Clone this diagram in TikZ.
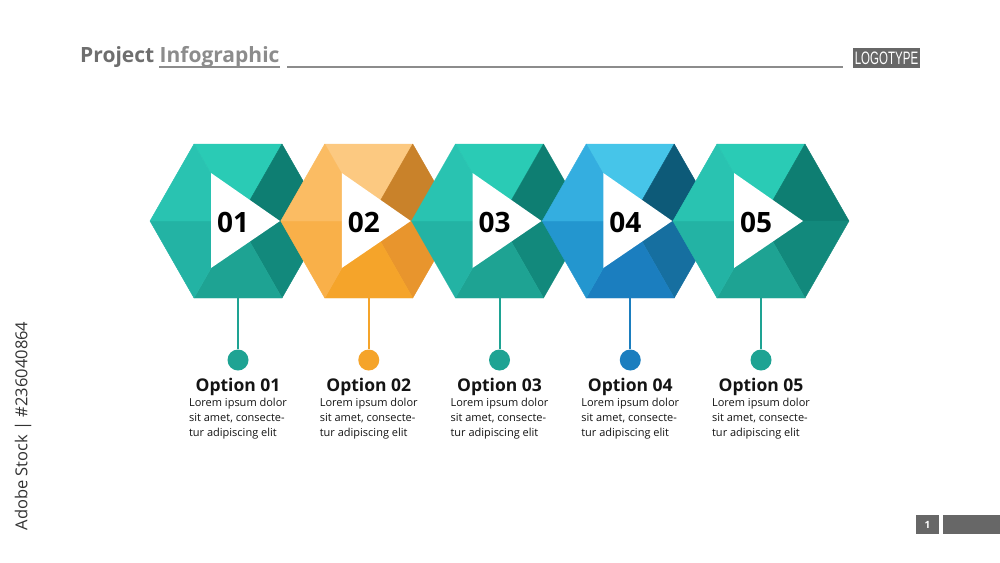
\documentclass[tikz,border=0pt]{standalone}
\usepackage{fontspec}
\setmainfont{Open Sans}
\newfontfamily\logofont{Liberation Sans}
\usetikzlibrary{positioning}

\definecolor{inkgray}{HTML}{6E6E6E}
\definecolor{lightgray}{HTML}{8C8C8C}
\definecolor{boxgray}{HTML}{676767}
\definecolor{textblack}{HTML}{141414}
% teal gem
\definecolor{tealT}{HTML}{2ACBB5}
\definecolor{tealUR}{HTML}{0E7E72}
\definecolor{tealLR}{HTML}{12897C}
\definecolor{tealB}{HTML}{1EA393}
\definecolor{tealLL}{HTML}{23B3A4}
\definecolor{tealUL}{HTML}{29C3B1}
% orange gem
\definecolor{orangeT}{HTML}{FCC981}
\definecolor{orangeUR}{HTML}{C9822A}
\definecolor{orangeLR}{HTML}{E8952D}
\definecolor{orangeB}{HTML}{F5A42A}
\definecolor{orangeLL}{HTML}{F9B049}
\definecolor{orangeUL}{HTML}{FBBC63}
% blue gem
\definecolor{blueT}{HTML}{46C5E9}
\definecolor{blueUR}{HTML}{0D5A78}
\definecolor{blueLR}{HTML}{166FA0}
\definecolor{blueB}{HTML}{1B7EBF}
\definecolor{blueLL}{HTML}{2396CF}
\definecolor{blueUL}{HTML}{34AEE0}

% #1 name, #2 centre x, #3 colour set, #4 number
\newcommand{\gem}[4]{%
  \begin{scope}[shift={(#2,221)}]
    \coordinate (#1) at (0,0);
    \fill[facet=#3T]  (0,0) -- (-44,-77) -- (44,-77) -- cycle;
    \fill[facet=#3UR] (0,0) -- (44,-77) -- (88,0) -- cycle;
    \fill[facet=#3LR] (0,0) -- (88,0) -- (44,77) -- cycle;
    \fill[facet=#3B]  (0,0) -- (44,77) -- (-44,77) -- cycle;
    \fill[facet=#3LL] (0,0) -- (-44,77) -- (-88,0) -- cycle;
    \fill[facet=#3UL] (0,0) -- (-88,0) -- (-44,-77) -- cycle;
    \fill[white] (-27,-48) -- (-27,47) -- (42,0) -- cycle;
    \node[num] at (-5,1) {#4};
    \coordinate (#1 foot) at (0,77);
  \end{scope}}

\begin{document}
\begin{tikzpicture}[x=1pt,y=-1pt,
  facet/.style={fill=#1,draw=#1,line width=.4pt,line join=round},
  num/.style={font=\fontsize{28}{30}\selectfont\bfseries,text=black,inner sep=0},
  stem/.style={draw=#1,line width=2pt},
  dot/.style={circle,fill=#1,minimum size=21pt,inner sep=0},
  opt/.style={font=\fontsize{17.5}{20}\selectfont\bfseries,text=textblack,inner sep=0,anchor=base},
  body/.style={font=\fontsize{11}{15}\selectfont,text=textblack,inner sep=0,
    align=left,below=3pt of #1}]

  \useasboundingbox[fill=white] (0,0) rectangle (1000,562);

  % header
  \node[font=\fontsize{21}{24}\selectfont\bfseries,text=inkgray,inner sep=0,anchor=base west]
    (proj) at (80,62) {Project};
  \node[font=\fontsize{21}{24}\selectfont\bfseries,text=lightgray,inner sep=0,
    right=5pt of proj.base east,anchor=base west] (info) {Infographic};
  \draw[lightgray,line width=2pt] ([yshift=-4.5pt]info.base west) -- ([yshift=-4.5pt]info.base east);
  \coordinate (ruleL) at (287,67);
  \coordinate (ruleR) at (843,67);
  \draw[lightgray,line width=2.5pt] (ruleL) -- (ruleR);
  \node[fill=boxgray,text=white,minimum width=67pt,minimum height=20pt,inner sep=0,
    font=\logofont\fontsize{18}{18}\selectfont] (logo) at (886.5,58)
    {\scalebox{.64}[1]{LOGOTYPE}};

  % gems, left to right so each one lies over the previous
  \gem{g1}{238}{teal}{01}
  \gem{g2}{368.75}{orange}{02}
  \gem{g3}{499.5}{teal}{03}
  \gem{g4}{630.25}{blue}{04}
  \gem{g5}{761}{teal}{05}

  \node[dot=tealB]   (d1) at (238,360) {};
  \node[dot=orangeB] (d2) at (368.75,360) {};
  \node[dot=tealB]   (d3) at (499.5,360) {};
  \node[dot=blueB]   (d4) at (630.25,360) {};
  \node[dot=tealB]   (d5) at (761,360) {};
  \draw[stem=tealB]   (g1 foot) -- (d1);
  \draw[stem=orangeB] (g2 foot) -- (d2);
  \draw[stem=tealB]   (g3 foot) -- (d3);
  \draw[stem=blueB]   (g4 foot) -- (d4);
  \draw[stem=tealB]   (g5 foot) -- (d5);

  % captions
  \node[opt] (o1) at (238,391) {Option 01};
  \node[opt] (o2) at (368.75,391) {Option 02};
  \node[opt] (o3) at (499.5,391) {Option 03};
  \node[opt] (o4) at (630.25,391) {Option 04};
  \node[opt] (o5) at (761,391) {Option 05};
  \node[body=o1] (t1) {Lorem ipsum dolor\\sit amet, consecte-\\tur adipiscing elit};
  \node[body=o2] (t2) {Lorem ipsum dolor\\sit amet, consecte-\\tur adipiscing elit};
  \node[body=o3] (t3) {Lorem ipsum dolor\\sit amet, consecte-\\tur adipiscing elit};
  \node[body=o4] (t4) {Lorem ipsum dolor\\sit amet, consecte-\\tur adipiscing elit};
  \node[body=o5] (t5) {Lorem ipsum dolor\\sit amet, consecte-\\tur adipiscing elit};

  % footer
  \node[fill=boxgray,text=white,minimum width=23pt,minimum height=19pt,inner sep=0,
    font=\fontsize{10}{10}\selectfont\bfseries] (page) at (927.5,524.5) {1};
  \fill[boxgray] (943,515) rectangle (1000,534);

  \node[rotate=90,text=black!80,inner sep=0,font=\fontsize{16.5}{16.5}\selectfont]
    (stock) at (23,426) {Adobe Stock | \#236040864};
\end{tikzpicture}
\end{document}
